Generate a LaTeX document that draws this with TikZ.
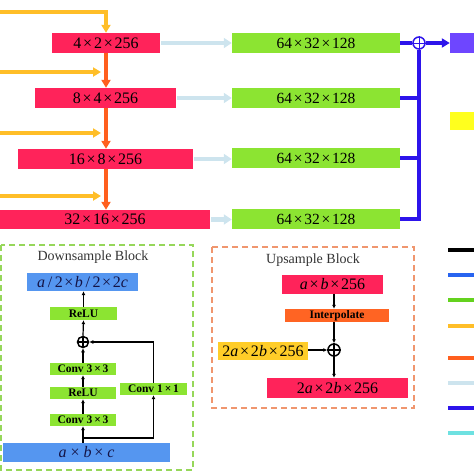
\documentclass[tikz,border=0pt]{standalone}
\usepackage{fontspec}
\setmainfont{Liberation Serif}
\usetikzlibrary{arrows.meta, calc}
\usepackage{xcolor}

\definecolor{fmred}{RGB}{255,35,90}
\definecolor{fmgreen}{RGB}{140,228,50}
\definecolor{fmblue}{RGB}{85,150,240}
\definecolor{fmorange}{RGB}{255,100,35}
\definecolor{fmyellow}{RGB}{255,205,40}
\definecolor{fmpurple}{RGB}{110,70,255}
\definecolor{brightyellow}{RGB}{255,255,30}
\definecolor{arrowyellow}{RGB}{255,190,40}
\definecolor{arroworange}{RGB}{255,95,30}
\definecolor{lightblue}{RGB}{205,228,238}
\definecolor{darkblue}{RGB}{45,20,235}
\definecolor{dashgreen}{RGB}{150,215,90}
\definecolor{dashorange}{RGB}{240,150,110}
\definecolor{lgblue}{RGB}{40,100,240}
\definecolor{lggreen}{RGB}{100,210,30}
\definecolor{lgcyan}{RGB}{110,225,225}
\definecolor{navytext}{RGB}{20,20,70}

\newcommand{\fmsize}[3]{#1\kern1.8pt×\kern1.8pt#2\kern1.8pt×\kern1.8pt#3}

\begin{document}
\begin{tikzpicture}[x=1pt, y=-1pt]
						\tikzstyle{fmap}=[
						rectangle,
						inner sep=0pt,
						text=black,
						font=\fontsize{16}{18}\selectfont
						]
						\tikzstyle{redmap}=[fmap, fill=fmred, minimum height=20pt]
						\tikzstyle{greenmap}=[fmap, fill=fmgreen, minimum width=168pt, minimum height=20pt, font=\fontsize{15.5}{18}\selectfont]
						\tikzstyle{bluemap}=[fmap, fill=fmblue, text=navytext]
						\tikzstyle{layer}=[
						rectangle,
						inner sep=0pt,
						fill=fmgreen,
						minimum width=66pt,
						minimum height=12pt,
						font=\fontsize{11.5}{12}\selectfont\bfseries
						]
						\tikzstyle{title}=[font=\fontsize{14}{16}\selectfont, text=black!80]
						\tikzstyle{addnode}=[circle, draw, fill=white, inner sep=0pt, minimum size=11pt, line width=1.5pt]
						\tikzstyle{yarrow}=[draw=arrowyellow, line width=3.5pt, -{Triangle[length=8pt,width=9pt]}]
						\tikzstyle{oarrow}=[draw=arroworange, line width=3.5pt, -{Triangle[length=8pt,width=9pt]}]
						\tikzstyle{barrow}=[draw=lightblue, line width=4.5pt, -{Triangle[length=8pt,width=10pt]}]
						\tikzstyle{bline}=[draw=darkblue, line width=4pt]
						\tikzstyle{karrow}=[draw=black, line width=1.2pt, -{Latex[length=4pt,width=4pt]}]
						\useasboundingbox (0,0) rectangle (474,474);
						%
						% feature pyramid
						\node[redmap, minimum width=108pt] (R1) at (106,43) {\fmsize{4}{2}{256}};
						\node[redmap, minimum width=141pt] (R2) at (105.5,98) {\fmsize{8}{4}{256}};
						\node[redmap, minimum width=175pt] (R3) at (105.5,159) {\fmsize{16}{8}{256}};
						\node[redmap, minimum width=210pt, minimum height=19pt] (R4) at (105,219.5) {\fmsize{32}{16}{256}};
						\foreach \i/\y in {1/43, 2/98, 3/158, 4/219}
						\node[greenmap] (G\i) at (316,\y) {\fmsize{64}{32}{128}};
						\foreach \i in {1,...,4}
						\draw[barrow] ($(R\i.east)+(1,0)$) -- (R\i.east -| G\i.west);
						\foreach \i/\j in {1/2, 2/3, 3/4}
						\draw[oarrow] (R\i.south -| R1.south) -- (R1.south |- R\j.north);
						%
						\coordinate (Y1) at (0,12);
						\coordinate (Y2) at (0,72);
						\coordinate (Y2e) at (101,72);
						\coordinate (Y3) at (0,133);
						\coordinate (Y3e) at (101,133);
						\coordinate (Y4) at (0,196);
						\coordinate (Y4e) at (101,196);
						\draw[yarrow] (Y1) -| (R1.north);
						\draw[yarrow] (Y2) -- (Y2e);
						\draw[yarrow] (Y3) -- (Y3e);
						\draw[yarrow] (Y4) -- (Y4e);
						%
						\node[addnode, draw=darkblue, minimum size=12pt] (S) at (419,43) {};
						\draw[darkblue, line width=1pt] (S.north) -- (S.south) (S.west) -- (S.east);
						\node[rectangle, inner sep=0pt, fill=fmpurple, minimum width=24pt, minimum height=20pt] (P) at (462,43) {};
						\node[rectangle, inner sep=0pt, fill=brightyellow, minimum width=24pt, minimum height=18pt] (Q) at (462,121) {};
						\draw[bline] (G1.east) -- (S.west);
						\draw[bline, -{Triangle[length=8pt,width=9pt]}] (S.east) -- (P.west);
						\draw[bline] (S.south) -- (S.south |- G4.east) -- (G4.east);
						\draw[bline] (G2.east) -- (G2.east -| S.south);
						\draw[bline] (G3.east) -- (G3.east -| S.south);
						%
						% downsample block
						\draw[draw=dashgreen, line width=1.2pt, dash pattern=on 6pt off 4pt] (1,245) rectangle (193,470);
						\node[title] (DT) at (93,257) {Downsample Block};
						\node[bluemap, minimum width=111pt, minimum height=18pt] (D1) at (82.5,282) {\textit{a}\,/\,2\kern1.5pt×\kern1.5pt\textit{b}\,/\,2\kern1.5pt×\kern1.5pt2\textit{c}};
						\node[layer, minimum width=67pt, minimum height=13pt] (DL1) at (83.5,313.5) {ReLU};
						\node[addnode] (DS) at (83,342) {};
						\draw[line width=1.2pt] (DS.north) -- (DS.south) (DS.west) -- (DS.east);
						\node[layer] (DC1) at (83,369) {Conv 3\,×\,3};
						\node[layer] (DL2) at (83,393) {ReLU};
						\node[layer] (DC2) at (83,420) {Conv 3\,×\,3};
						\node[bluemap, minimum width=167pt, minimum height=19pt] (D2) at (86.5,452.5) {\textit{a}\ ×\ \textit{b}\,×\ \textit{c}};
						\node[layer, minimum width=67pt] (DC3) at (153.5,389) {Conv 1\,×\,1};
						\coordinate (DB) at (83,438);
						\draw[karrow] (DC2.south |- D2.north) -- (DC2.south);
						\draw[karrow] (DC2.north) -- (DL2.south);
						\draw[karrow] (DL2.north) -- (DC1.south);
						\draw[karrow] (DC1.north) -- (DS.south);
						\draw[karrow] (DS.north) -- (DL1.south);
						\draw[karrow] (DL1.north) -- (DL1.north |- D1.south);
						\draw[karrow] (DB) -| (DC3.south);
						\draw[karrow] (DC3.north) |- (DS.east);
						%
						% upsample block
						\draw[draw=dashorange, line width=1.2pt, dash pattern=on 6pt off 4pt] (212,247) rectangle (414,408);
						\node[title] (UT) at (313,260) {Upsample Block};
						\node[redmap, minimum width=101pt, minimum height=19pt] (U1) at (332.5,284.5) {\fmsize{\textit{a}}{\textit{b}}{256}};
						\node[layer, fill=fmorange, minimum width=104pt, minimum height=13pt] (UI) at (337,315.5) {Interpolate};
						\node[addnode, minimum size=12pt] (US) at (334,350) {};
						\draw[line width=1.2pt] (US.north) -- (US.south) (US.west) -- (US.east);
						\node[fmap, fill=fmyellow, minimum width=90pt, minimum height=18pt] (UY) at (263,351) {\fmsize{2\textit{a}}{2\textit{b}}{256}};
						\node[redmap] (U2) at (337.5,388) [minimum width=141pt] {\fmsize{2\textit{a}}{2\textit{b}}{256}};
						\draw[karrow] (US.north |- U1.south) -- (US.north |- UI.north);
						\draw[karrow] (US.north |- UI.south) -- (US.north);
						\draw[karrow] (UY.east |- US.west) -- (US.west);
						\draw[karrow] (US.south) -- (US.south |- U2.north);
						%
						% legend
						\foreach \c/\y in {black/250, lgblue/275, lggreen/300, arrowyellow/326, arroworange/358, lightblue/383, darkblue/408, lgcyan/433}
						\draw[\c, line width=4pt] (448,\y) -- (474,\y);
					\end{tikzpicture}
\end{document}
